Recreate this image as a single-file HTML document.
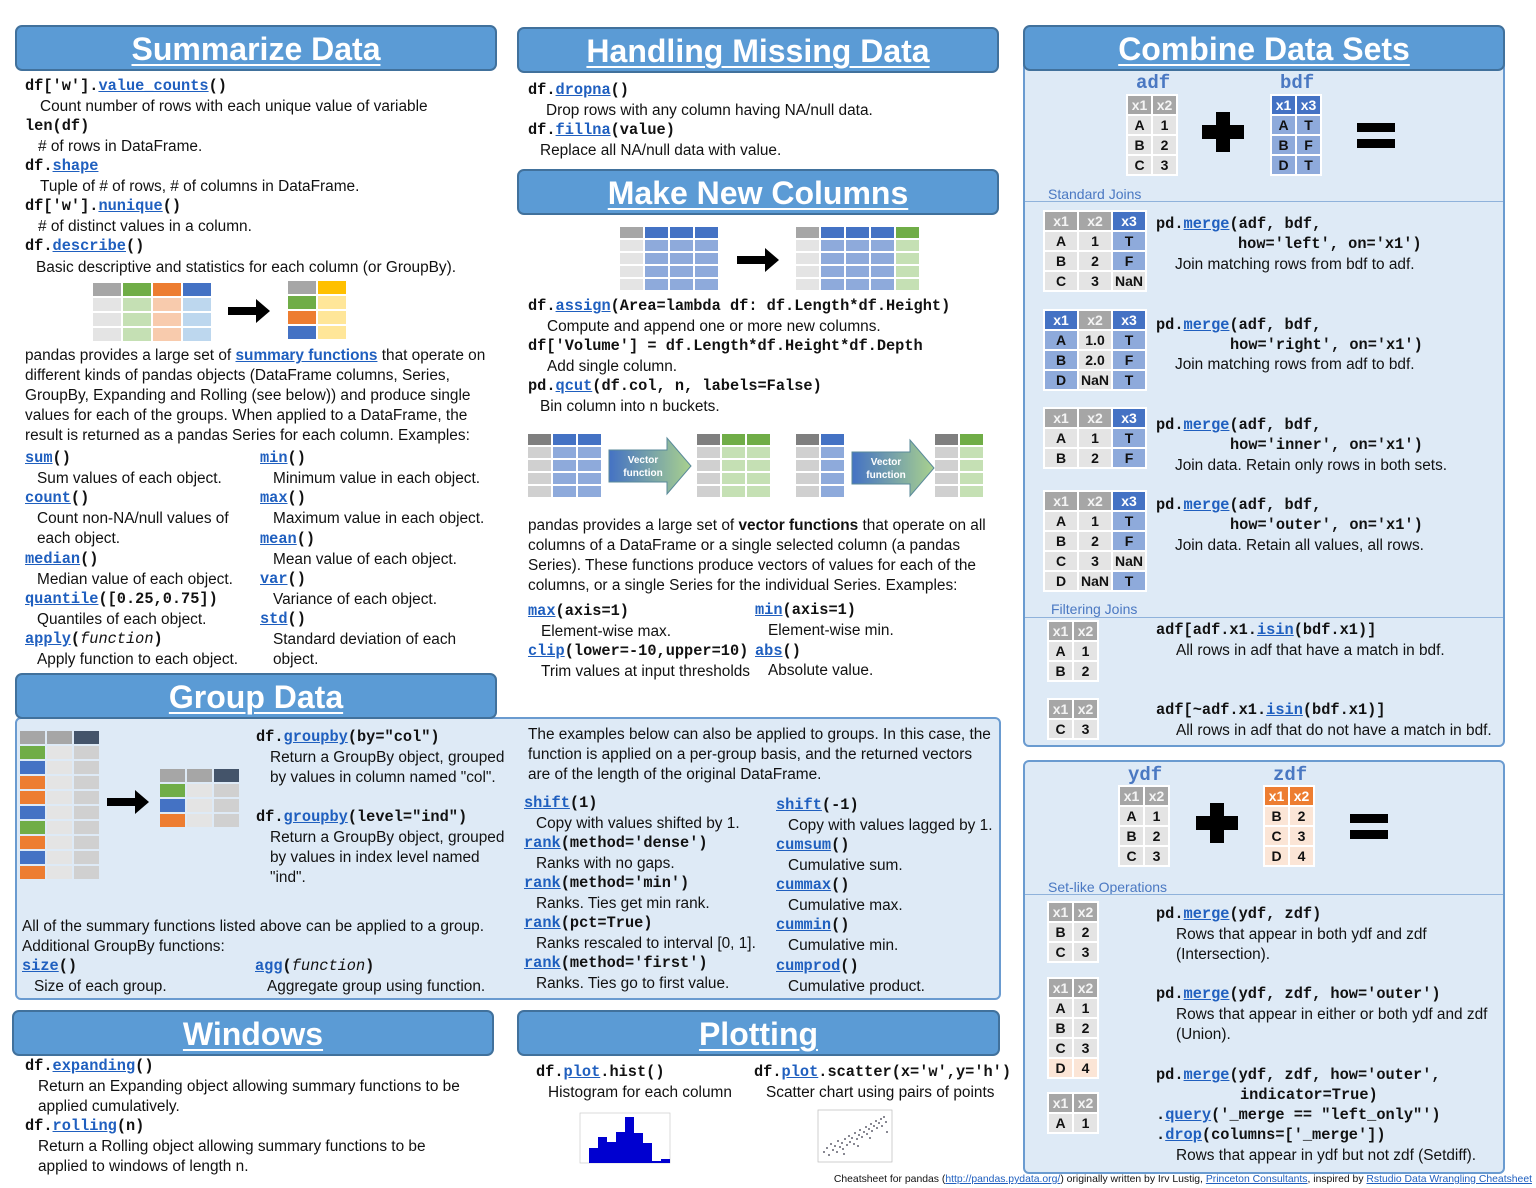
<!DOCTYPE html>
<html><head><meta charset="utf-8"><style>
*{margin:0;padding:0;box-sizing:border-box}
body{width:1536px;height:1188px;background:#fff;position:relative;overflow:hidden;font-family:"Liberation Sans",sans-serif;color:#111}
.h{position:absolute;background:#5b9bd5;border:2px solid #41719c;border-radius:7px;color:#fff;font:bold 32px "Liberation Sans",sans-serif;text-align:center;text-decoration:underline;text-decoration-thickness:2px;text-underline-offset:4px}
.p{position:absolute;background:#deeaf6;border:2px solid #6a9bd0;border-radius:6px}
.x{position:absolute;white-space:nowrap;line-height:20px;font-size:15.4px}
.c{position:absolute;white-space:nowrap;line-height:20px;font:bold 15.3px "Liberation Mono",monospace}
.k{color:#1f5fbf;text-decoration:underline}
i.it{font-family:"Liberation Mono",monospace;font-style:italic;font-weight:normal}
.lb{position:absolute;color:#4a78c2;font-size:14px;line-height:16px}
.ln{position:absolute;height:1px;background:#8fb2db}
table.t{position:absolute;border-collapse:separate;border-spacing:2px;background:#fff;font:bold 14px "Liberation Sans",sans-serif}
table.t td{height:18px;text-align:center;padding:0;width:23px}
table.w td{width:32px}
.g{background:#a6a6a6;color:#f4f4f4}.l{background:#e4e4e4}
.B{background:#4472c4;color:#fff}.b{background:#8eaadb}
.O{background:#ed7d31;color:#fff}.o{background:#fbe5d6}
.gr{position:absolute;display:grid;gap:2px}
.gr i{display:block}
.df{position:absolute;font:bold 19px "Liberation Mono",monospace;color:#4a78c2}
</style></head><body>

<div class="h" style="left:15px;top:25px;width:482px;height:46px;line-height:44px">Summarize Data</div>
<div class="h" style="left:517px;top:27px;width:482px;height:46px;line-height:44px">Handling Missing Data</div>
<div class="h" style="left:517px;top:169px;width:482px;height:46px;line-height:44px">Make New Columns</div>
<div class="p" style="left:1023px;top:60px;width:482px;height:687px"></div>
<div class="h" style="left:1023px;top:25px;width:482px;height:46px;line-height:44px">Combine Data Sets</div>
<div class="p" style="left:1023px;top:760px;width:482px;height:414px"></div>
<div class="p" style="left:15px;top:717px;width:986px;height:283px"></div>
<div class="h" style="left:15px;top:673px;width:482px;height:46px;line-height:44px">Group Data</div>
<div class="h" style="left:12px;top:1010px;width:482px;height:46px;line-height:44px">Windows</div>
<div class="h" style="left:517px;top:1010px;width:483px;height:46px;line-height:44px">Plotting</div>

<div class="c" style="left:25px;top:77px">df['w'].<span class="k">value_counts</span>()</div>
<div class="x" style="left:40px;top:97px">Count number of rows with each unique value of variable</div>
<div class="c" style="left:25px;top:117px">len(df)</div>
<div class="x" style="left:38px;top:137px"># of rows in DataFrame.</div>
<div class="c" style="left:25px;top:157px">df.<span class="k">shape</span></div>
<div class="x" style="left:40px;top:177px">Tuple of # of rows, # of columns in DataFrame.</div>
<div class="c" style="left:25px;top:197px">df['w'].<span class="k">nunique</span>()</div>
<div class="x" style="left:38px;top:217px"># of distinct values in a column.</div>
<div class="c" style="left:25px;top:237px">df.<span class="k">describe</span>()</div>
<div class="x" style="left:36px;top:258px">Basic descriptive and statistics for each column (or GroupBy).</div>

<div class="gr" style="left:93px;top:283px;grid-template-columns:repeat(4,28px);grid-auto-rows:13px">
<i style="background:#a6a6a6"></i><i style="background:#70ad47"></i><i style="background:#ed7d31"></i><i style="background:#4472c4"></i>
<i style="background:#e4e4e4"></i><i style="background:#c5e0b4"></i><i style="background:#f8cbad"></i><i style="background:#bdd7ee"></i>
<i style="background:#e4e4e4"></i><i style="background:#c5e0b4"></i><i style="background:#f8cbad"></i><i style="background:#bdd7ee"></i>
<i style="background:#e4e4e4"></i><i style="background:#c5e0b4"></i><i style="background:#f8cbad"></i><i style="background:#bdd7ee"></i>
</div>
<svg style="position:absolute;left:228px;top:298px" width="44" height="26"><path d="M0 9h28V1l14 12-14 12v-8H0z" fill="#000"/></svg>
<div class="gr" style="left:288px;top:281px;grid-template-columns:repeat(2,28px);grid-auto-rows:13px">
<i style="background:#a6a6a6"></i><i style="background:#ffc000"></i>
<i style="background:#70ad47"></i><i style="background:#ffe699"></i>
<i style="background:#ed7d31"></i><i style="background:#ffe699"></i>
<i style="background:#4472c4"></i><i style="background:#ffe699"></i>
</div>

<div class="x" style="left:25px;top:346px">pandas provides a large set of <b class="k">summary functions</b> that operate on</div>
<div class="x" style="left:25px;top:366px">different kinds of pandas objects (DataFrame columns, Series,</div>
<div class="x" style="left:25px;top:386px">GroupBy, Expanding and Rolling (see below)) and produce single</div>
<div class="x" style="left:25px;top:406px">values for each of the groups. When applied to a DataFrame, the</div>
<div class="x" style="left:25px;top:426px">result is returned as a pandas Series for each column. Examples:</div>

<div class="c" style="left:25px;top:449px"><span class="k">sum</span>()</div>
<div class="x" style="left:37px;top:469px">Sum values of each object.</div>
<div class="c" style="left:25px;top:489px"><span class="k">count</span>()</div>
<div class="x" style="left:37px;top:509px">Count non-NA/null values of</div>
<div class="x" style="left:37px;top:529px">each object.</div>
<div class="c" style="left:25px;top:550px"><span class="k">median</span>()</div>
<div class="x" style="left:37px;top:570px">Median value of each object.</div>
<div class="c" style="left:25px;top:590px"><span class="k">quantile</span>([0.25,0.75])</div>
<div class="x" style="left:37px;top:610px">Quantiles of each object.</div>
<div class="c" style="left:25px;top:630px"><span class="k">apply</span>(<i class="it">function</i>)</div>
<div class="x" style="left:37px;top:650px">Apply function to each object.</div>

<div class="c" style="left:260px;top:449px"><span class="k">min</span>()</div>
<div class="x" style="left:273px;top:469px">Minimum value in each object.</div>
<div class="c" style="left:260px;top:489px"><span class="k">max</span>()</div>
<div class="x" style="left:273px;top:509px">Maximum value in each object.</div>
<div class="c" style="left:260px;top:530px"><span class="k">mean</span>()</div>
<div class="x" style="left:273px;top:550px">Mean value of each object.</div>
<div class="c" style="left:260px;top:570px"><span class="k">var</span>()</div>
<div class="x" style="left:273px;top:590px">Variance of each object.</div>
<div class="c" style="left:260px;top:610px"><span class="k">std</span>()</div>
<div class="x" style="left:273px;top:630px">Standard deviation of each</div>
<div class="x" style="left:273px;top:650px">object.</div>

<div class="c" style="left:528px;top:81px">df.<span class="k">dropna</span>()</div>
<div class="x" style="left:546px;top:101px">Drop rows with any column having NA/null data.</div>
<div class="c" style="left:528px;top:121px">df.<span class="k">fillna</span>(value)</div>
<div class="x" style="left:540px;top:141px">Replace all NA/null data with value.</div>

<div class="gr" style="left:620px;top:227px;grid-template-columns:23px repeat(3,23px);grid-auto-rows:11px">
<i style="background:#a6a6a6"></i><i style="background:#4472c4"></i><i style="background:#4472c4"></i><i style="background:#4472c4"></i>
<i style="background:#e4e4e4"></i><i style="background:#8eaadb"></i><i style="background:#8eaadb"></i><i style="background:#8eaadb"></i>
<i style="background:#e4e4e4"></i><i style="background:#8eaadb"></i><i style="background:#8eaadb"></i><i style="background:#8eaadb"></i>
<i style="background:#e4e4e4"></i><i style="background:#8eaadb"></i><i style="background:#8eaadb"></i><i style="background:#8eaadb"></i>
<i style="background:#e4e4e4"></i><i style="background:#8eaadb"></i><i style="background:#8eaadb"></i><i style="background:#8eaadb"></i>
</div>
<svg style="position:absolute;left:737px;top:248px" width="44" height="24"><path d="M0 8h28V0l14 12-14 12v-8H0z" fill="#000"/></svg>
<div class="gr" style="left:796px;top:227px;grid-template-columns:repeat(5,23px);grid-auto-rows:11px">
<i style="background:#a6a6a6"></i><i style="background:#4472c4"></i><i style="background:#4472c4"></i><i style="background:#4472c4"></i><i style="background:#70ad47"></i>
<i style="background:#e4e4e4"></i><i style="background:#8eaadb"></i><i style="background:#8eaadb"></i><i style="background:#8eaadb"></i><i style="background:#c5e0b4"></i>
<i style="background:#e4e4e4"></i><i style="background:#8eaadb"></i><i style="background:#8eaadb"></i><i style="background:#8eaadb"></i><i style="background:#c5e0b4"></i>
<i style="background:#e4e4e4"></i><i style="background:#8eaadb"></i><i style="background:#8eaadb"></i><i style="background:#8eaadb"></i><i style="background:#c5e0b4"></i>
<i style="background:#e4e4e4"></i><i style="background:#8eaadb"></i><i style="background:#8eaadb"></i><i style="background:#8eaadb"></i><i style="background:#c5e0b4"></i>
</div>
<div class="c" style="left:528px;top:297px">df.<span class="k">assign</span>(Area=lambda df: df.Length*df.Height)</div>
<div class="x" style="left:547px;top:317px">Compute and append one or more new columns.</div>
<div class="c" style="left:528px;top:337px">df['Volume'] = df.Length*df.Height*df.Depth</div>
<div class="x" style="left:547px;top:357px">Add single column.</div>
<div class="c" style="left:528px;top:377px">pd.<span class="k">qcut</span>(df.col, n, labels=False)</div>
<div class="x" style="left:540px;top:397px">Bin column into n buckets.</div>

<svg style="position:absolute;left:526px;top:432px" width="464" height="72">
<defs><linearGradient id="vg" x1="0" x2="1"><stop offset="0" stop-color="#4472c4"/><stop offset="1" stop-color="#a9d18e"/></linearGradient></defs>
<g>
<rect x="2" y="2" width="23" height="11" fill="#7f7f7f"/><rect x="27" y="2" width="23" height="11" fill="#4472c4"/><rect x="52" y="2" width="23" height="11" fill="#4472c4"/>
<g fill="#d0d0d0"><rect x="2" y="15" width="23" height="11"/><rect x="2" y="28" width="23" height="11"/><rect x="2" y="41" width="23" height="11"/><rect x="2" y="54" width="23" height="11"/></g>
<g fill="#8eaadb"><rect x="27" y="15" width="23" height="11"/><rect x="27" y="28" width="23" height="11"/><rect x="27" y="41" width="23" height="11"/><rect x="27" y="54" width="23" height="11"/><rect x="52" y="15" width="23" height="11"/><rect x="52" y="28" width="23" height="11"/><rect x="52" y="41" width="23" height="11"/><rect x="52" y="54" width="23" height="11"/></g>
</g>
<path d="M83 18h58V6l24 28-24 28V50H83z" fill="url(#vg)" stroke="#5a8a9a"/>
<text x="117" y="31" fill="#fff" font-size="10" font-weight="bold" text-anchor="middle" font-family="Liberation Sans">Vector</text>
<text x="117" y="44" fill="#fff" font-size="10" font-weight="bold" text-anchor="middle" font-family="Liberation Sans">function</text>
<g transform="translate(169,0)">
<rect x="2" y="2" width="23" height="11" fill="#7f7f7f"/><rect x="27" y="2" width="23" height="11" fill="#70ad47"/><rect x="52" y="2" width="23" height="11" fill="#70ad47"/>
<g fill="#d0d0d0"><rect x="2" y="15" width="23" height="11"/><rect x="2" y="28" width="23" height="11"/><rect x="2" y="41" width="23" height="11"/><rect x="2" y="54" width="23" height="11"/></g>
<g fill="#c5e0b4"><rect x="27" y="15" width="23" height="11"/><rect x="27" y="28" width="23" height="11"/><rect x="27" y="41" width="23" height="11"/><rect x="27" y="54" width="23" height="11"/><rect x="52" y="15" width="23" height="11"/><rect x="52" y="28" width="23" height="11"/><rect x="52" y="41" width="23" height="11"/><rect x="52" y="54" width="23" height="11"/></g>
</g>
<g transform="translate(268,0)">
<rect x="2" y="2" width="23" height="11" fill="#7f7f7f"/><rect x="27" y="2" width="23" height="11" fill="#4472c4"/>
<g fill="#d0d0d0"><rect x="2" y="15" width="23" height="11"/><rect x="2" y="28" width="23" height="11"/><rect x="2" y="41" width="23" height="11"/><rect x="2" y="54" width="23" height="11"/></g>
<g fill="#8eaadb"><rect x="27" y="15" width="23" height="11"/><rect x="27" y="28" width="23" height="11"/><rect x="27" y="41" width="23" height="11"/><rect x="27" y="54" width="23" height="11"/></g>
</g>
<path d="M326 20h58V8l24 28-24 28V52H326z" fill="url(#vg)" stroke="#5a8a9a"/>
<text x="360" y="33" fill="#fff" font-size="10" font-weight="bold" text-anchor="middle" font-family="Liberation Sans">Vector</text>
<text x="360" y="46" fill="#fff" font-size="10" font-weight="bold" text-anchor="middle" font-family="Liberation Sans">function</text>
<g transform="translate(407,0)">
<rect x="2" y="2" width="23" height="11" fill="#7f7f7f"/><rect x="27" y="2" width="23" height="11" fill="#70ad47"/>
<g fill="#d0d0d0"><rect x="2" y="15" width="23" height="11"/><rect x="2" y="28" width="23" height="11"/><rect x="2" y="41" width="23" height="11"/><rect x="2" y="54" width="23" height="11"/></g>
<g fill="#c5e0b4"><rect x="27" y="15" width="23" height="11"/><rect x="27" y="28" width="23" height="11"/><rect x="27" y="41" width="23" height="11"/><rect x="27" y="54" width="23" height="11"/></g>
</g>
</svg>

<div class="x" style="left:528px;top:516px">pandas provides a large set of <b>vector functions</b> that operate on all</div>
<div class="x" style="left:528px;top:536px">columns of a DataFrame or a single selected column (a pandas</div>
<div class="x" style="left:528px;top:556px">Series). These functions produce vectors of values for each of the</div>
<div class="x" style="left:528px;top:576px">columns, or a single Series for the individual Series. Examples:</div>
<div class="c" style="left:528px;top:602px"><span class="k">max</span>(axis=1)</div>
<div class="x" style="left:541px;top:622px">Element-wise max.</div>
<div class="c" style="left:755px;top:601px"><span class="k">min</span>(axis=1)</div>
<div class="x" style="left:768px;top:621px">Element-wise min.</div>
<div class="c" style="left:528px;top:642px"><span class="k">clip</span>(lower=-10,upper=10)</div>
<div class="x" style="left:541px;top:662px">Trim values at input thresholds</div>
<div class="c" style="left:755px;top:642px"><span class="k">abs</span>()</div>
<div class="x" style="left:768px;top:661px">Absolute value.</div>

<div class="df" style="left:1136px;top:72px">adf</div>
<table class="t" style="left:1126px;top:94px"><tr><td class="g">x1</td><td class="g">x2</td></tr><tr><td class="l">A</td><td class="l">1</td></tr><tr><td class="l">B</td><td class="l">2</td></tr><tr><td class="l">C</td><td class="l">3</td></tr></table>
<svg style="position:absolute;left:1202px;top:112px" width="42" height="40"><path d="M14 0h14v13h14v14H28v13H14V27H0V13h14z"/></svg>
<div class="df" style="left:1280px;top:72px">bdf</div>
<table class="t" style="left:1270px;top:94px"><tr><td class="B">x1</td><td class="B">x3</td></tr><tr><td class="b">A</td><td class="b">T</td></tr><tr><td class="b">B</td><td class="b">F</td></tr><tr><td class="b">D</td><td class="b">T</td></tr></table>
<svg style="position:absolute;left:1357px;top:123px" width="40" height="26"><rect width="38" height="9"/><rect y="16" width="38" height="9"/></svg>
<div class="lb" style="left:1048px;top:186px">Standard Joins</div>
<div class="ln" style="left:1025px;top:201px;width:478px"></div>

<table class="t w" style="left:1043px;top:210px"><tr><td class="g">x1</td><td class="g">x2</td><td class="B">x3</td></tr><tr><td class="l">A</td><td class="l">1</td><td class="b">T</td></tr><tr><td class="l">B</td><td class="l">2</td><td class="b">F</td></tr><tr><td class="l">C</td><td class="l">3</td><td class="l">NaN</td></tr></table>
<div class="c" style="left:1156px;top:215px">pd.<span class="k">merge</span>(adf, bdf,</div>
<div class="c" style="left:1238px;top:235px">how='left', on='x1')</div>
<div class="x" style="left:1175px;top:255px">Join matching rows from bdf to adf.</div>

<table class="t w" style="left:1043px;top:309px"><tr><td class="B">x1</td><td class="g">x2</td><td class="B">x3</td></tr><tr><td class="b">A</td><td class="l">1.0</td><td class="b">T</td></tr><tr><td class="b">B</td><td class="l">2.0</td><td class="b">F</td></tr><tr><td class="b">D</td><td class="l">NaN</td><td class="b">T</td></tr></table>
<div class="c" style="left:1156px;top:316px">pd.<span class="k">merge</span>(adf, bdf,</div>
<div class="c" style="left:1230px;top:336px">how='right', on='x1')</div>
<div class="x" style="left:1175px;top:355px">Join matching rows from adf to bdf.</div>

<table class="t w" style="left:1043px;top:407px"><tr><td class="g">x1</td><td class="g">x2</td><td class="B">x3</td></tr><tr><td class="l">A</td><td class="l">1</td><td class="b">T</td></tr><tr><td class="l">B</td><td class="l">2</td><td class="b">F</td></tr></table>
<div class="c" style="left:1156px;top:416px">pd.<span class="k">merge</span>(adf, bdf,</div>
<div class="c" style="left:1230px;top:436px">how='inner', on='x1')</div>
<div class="x" style="left:1175px;top:456px">Join data. Retain only rows in both sets.</div>

<table class="t w" style="left:1043px;top:490px"><tr><td class="g">x1</td><td class="g">x2</td><td class="B">x3</td></tr><tr><td class="l">A</td><td class="l">1</td><td class="b">T</td></tr><tr><td class="l">B</td><td class="l">2</td><td class="b">F</td></tr><tr><td class="l">C</td><td class="l">3</td><td class="l">NaN</td></tr><tr><td class="l">D</td><td class="l">NaN</td><td class="b">T</td></tr></table>
<div class="c" style="left:1156px;top:496px">pd.<span class="k">merge</span>(adf, bdf,</div>
<div class="c" style="left:1230px;top:516px">how='outer', on='x1')</div>
<div class="x" style="left:1175px;top:536px">Join data. Retain all values, all rows.</div>

<div class="lb" style="left:1051px;top:601px">Filtering Joins</div>
<div class="ln" style="left:1025px;top:617px;width:478px"></div>
<table class="t" style="left:1047px;top:620px"><tr><td class="g">x1</td><td class="g">x2</td></tr><tr><td class="l">A</td><td class="l">1</td></tr><tr><td class="l">B</td><td class="l">2</td></tr></table>
<div class="c" style="left:1156px;top:621px">adf[adf.x1.<span class="k">isin</span>(bdf.x1)]</div>
<div class="x" style="left:1176px;top:641px">All rows in adf that have a match in bdf.</div>
<table class="t" style="left:1047px;top:698px"><tr><td class="g">x1</td><td class="g">x2</td></tr><tr><td class="l">C</td><td class="l">3</td></tr></table>
<div class="c" style="left:1156px;top:701px">adf[~adf.x1.<span class="k">isin</span>(bdf.x1)]</div>
<div class="x" style="left:1176px;top:721px">All rows in adf that do not have a match in bdf.</div>

<div class="df" style="left:1128px;top:764px">ydf</div>
<table class="t" style="left:1118px;top:785px"><tr><td class="g">x1</td><td class="g">x2</td></tr><tr><td class="l">A</td><td class="l">1</td></tr><tr><td class="l">B</td><td class="l">2</td></tr><tr><td class="l">C</td><td class="l">3</td></tr></table>
<svg style="position:absolute;left:1196px;top:803px" width="42" height="40"><path d="M14 0h14v13h14v14H28v13H14V27H0V13h14z"/></svg>
<div class="df" style="left:1273px;top:764px">zdf</div>
<table class="t" style="left:1263px;top:785px"><tr><td class="O">x1</td><td class="O">x2</td></tr><tr><td class="o">B</td><td class="o">2</td></tr><tr><td class="o">C</td><td class="o">3</td></tr><tr><td class="o">D</td><td class="o">4</td></tr></table>
<svg style="position:absolute;left:1350px;top:814px" width="40" height="26"><rect width="38" height="9"/><rect y="16" width="38" height="9"/></svg>
<div class="lb" style="left:1048px;top:879px">Set-like Operations</div>
<div class="ln" style="left:1025px;top:894px;width:478px"></div>

<table class="t" style="left:1047px;top:901px"><tr><td class="g">x1</td><td class="g">x2</td></tr><tr><td class="l">B</td><td class="l">2</td></tr><tr><td class="l">C</td><td class="l">3</td></tr></table>
<div class="c" style="left:1156px;top:905px">pd.<span class="k">merge</span>(ydf, zdf)</div>
<div class="x" style="left:1176px;top:925px">Rows that appear in both ydf and zdf</div>
<div class="x" style="left:1176px;top:945px">(Intersection).</div>
<table class="t" style="left:1047px;top:977px"><tr><td class="g">x1</td><td class="g">x2</td></tr><tr><td class="l">A</td><td class="l">1</td></tr><tr><td class="l">B</td><td class="l">2</td></tr><tr><td class="l">C</td><td class="l">3</td></tr><tr><td class="o">D</td><td class="o">4</td></tr></table>
<div class="c" style="left:1156px;top:985px">pd.<span class="k">merge</span>(ydf, zdf, how='outer')</div>
<div class="x" style="left:1176px;top:1005px">Rows that appear in either or both ydf and zdf</div>
<div class="x" style="left:1176px;top:1025px">(Union).</div>
<table class="t" style="left:1047px;top:1092px"><tr><td class="g">x1</td><td class="g">x2</td></tr><tr><td class="l">A</td><td class="l">1</td></tr></table>
<div class="c" style="left:1156px;top:1066px">pd.<span class="k">merge</span>(ydf, zdf, how='outer',</div>
<div class="c" style="left:1240px;top:1086px">indicator=True)</div>
<div class="c" style="left:1156px;top:1106px">.<span class="k">query</span>('_merge == "left_only"')</div>
<div class="c" style="left:1156px;top:1126px">.<span class="k">drop</span>(columns=['_merge'])</div>
<div class="x" style="left:1176px;top:1146px">Rows that appear in ydf but not zdf (Setdiff).</div>

<div class="x" style="right:4px;top:1172px;font-size:10.4px;line-height:16px">Cheatsheet for pandas (<span class="k">http://pandas.pydata.org/</span>) originally written by Irv Lustig, <span class="k">Princeton Consultants</span>, inspired by <span class="k">Rstudio Data Wrangling Cheatsheet</span></div>

<div class="gr" style="left:20px;top:731px;grid-template-columns:repeat(3,25px);grid-auto-rows:13px">
<i style="background:#a6a6a6"></i><i style="background:#a6a6a6"></i><i style="background:#44546a"></i>
<i style="background:#70ad47"></i><i style="background:#e4e4e4"></i><i style="background:#d0d0d0"></i>
<i style="background:#4472c4"></i><i style="background:#e4e4e4"></i><i style="background:#d0d0d0"></i>
<i style="background:#ed7d31"></i><i style="background:#e4e4e4"></i><i style="background:#d0d0d0"></i>
<i style="background:#ed7d31"></i><i style="background:#e4e4e4"></i><i style="background:#d0d0d0"></i>
<i style="background:#4472c4"></i><i style="background:#e4e4e4"></i><i style="background:#d0d0d0"></i>
<i style="background:#70ad47"></i><i style="background:#e4e4e4"></i><i style="background:#d0d0d0"></i>
<i style="background:#ed7d31"></i><i style="background:#e4e4e4"></i><i style="background:#d0d0d0"></i>
<i style="background:#4472c4"></i><i style="background:#e4e4e4"></i><i style="background:#d0d0d0"></i>
<i style="background:#ed7d31"></i><i style="background:#e4e4e4"></i><i style="background:#d0d0d0"></i>
</div>
<svg style="position:absolute;left:107px;top:790px" width="44" height="24"><path d="M0 8h28V0l14 12-14 12v-8H0z"/></svg>
<div class="gr" style="left:160px;top:769px;grid-template-columns:repeat(3,25px);grid-auto-rows:13px">
<i style="background:#a6a6a6"></i><i style="background:#a6a6a6"></i><i style="background:#44546a"></i>
<i style="background:#70ad47"></i><i style="background:#e4e4e4"></i><i style="background:#d0d0d0"></i>
<i style="background:#4472c4"></i><i style="background:#e4e4e4"></i><i style="background:#d0d0d0"></i>
<i style="background:#ed7d31"></i><i style="background:#e4e4e4"></i><i style="background:#d0d0d0"></i>
</div>
<div class="c" style="left:256px;top:728px">df.<span class="k">groupby</span>(by="col")</div>
<div class="x" style="left:270px;top:748px">Return a GroupBy object, grouped</div>
<div class="x" style="left:270px;top:768px">by values in column named "col".</div>
<div class="c" style="left:256px;top:808px">df.<span class="k">groupby</span>(level="ind")</div>
<div class="x" style="left:270px;top:828px">Return a GroupBy object, grouped</div>
<div class="x" style="left:270px;top:848px">by values in index level named</div>
<div class="x" style="left:270px;top:868px">"ind".</div>
<div class="x" style="left:22px;top:917px">All of the summary functions listed above can be applied to a group.</div>
<div class="x" style="left:22px;top:937px">Additional GroupBy functions:</div>
<div class="c" style="left:22px;top:957px"><span class="k">size</span>()</div>
<div class="x" style="left:34px;top:977px">Size of each group.</div>
<div class="c" style="left:255px;top:957px"><span class="k">agg</span>(<i class="it">function</i>)</div>
<div class="x" style="left:267px;top:977px">Aggregate group using function.</div>

<div class="x" style="left:528px;top:725px">The examples below can also be applied to groups. In this case, the</div>
<div class="x" style="left:528px;top:745px">function is applied on a per-group basis, and the returned vectors</div>
<div class="x" style="left:528px;top:765px">are of the length of the original DataFrame.</div>
<div class="c" style="left:524px;top:794px"><span class="k">shift</span>(1)</div>
<div class="x" style="left:536px;top:814px">Copy with values shifted by 1.</div>
<div class="c" style="left:524px;top:834px"><span class="k">rank</span>(method='dense')</div>
<div class="x" style="left:536px;top:854px">Ranks with no gaps.</div>
<div class="c" style="left:524px;top:874px"><span class="k">rank</span>(method='min')</div>
<div class="x" style="left:536px;top:894px">Ranks. Ties get min rank.</div>
<div class="c" style="left:524px;top:914px"><span class="k">rank</span>(pct=True)</div>
<div class="x" style="left:536px;top:934px">Ranks rescaled to interval [0, 1].</div>
<div class="c" style="left:524px;top:954px"><span class="k">rank</span>(method='first')</div>
<div class="x" style="left:536px;top:974px">Ranks. Ties go to first value.</div>
<div class="c" style="left:776px;top:796px"><span class="k">shift</span>(-1)</div>
<div class="x" style="left:788px;top:816px">Copy with values lagged by 1.</div>
<div class="c" style="left:776px;top:836px"><span class="k">cumsum</span>()</div>
<div class="x" style="left:788px;top:856px">Cumulative sum.</div>
<div class="c" style="left:776px;top:876px"><span class="k">cummax</span>()</div>
<div class="x" style="left:788px;top:896px">Cumulative max.</div>
<div class="c" style="left:776px;top:916px"><span class="k">cummin</span>()</div>
<div class="x" style="left:788px;top:936px">Cumulative min.</div>
<div class="c" style="left:776px;top:957px"><span class="k">cumprod</span>()</div>
<div class="x" style="left:788px;top:977px">Cumulative product.</div>

<div class="c" style="left:25px;top:1057px">df.<span class="k">expanding</span>()</div>
<div class="x" style="left:38px;top:1077px">Return an Expanding object allowing summary functions to be</div>
<div class="x" style="left:38px;top:1097px">applied cumulatively.</div>
<div class="c" style="left:25px;top:1117px">df.<span class="k">rolling</span>(n)</div>
<div class="x" style="left:38px;top:1137px">Return a Rolling object allowing summary functions to be</div>
<div class="x" style="left:38px;top:1157px">applied to windows of length n.</div>

<div class="c" style="left:536px;top:1063px">df.<span class="k">plot</span>.hist()</div>
<div class="x" style="left:548px;top:1083px">Histogram for each column</div>
<div class="c" style="left:754px;top:1063px">df.<span class="k">plot</span>.scatter(x='w',y='h')</div>
<div class="x" style="left:766px;top:1083px">Scatter chart using pairs of points</div>
<svg style="position:absolute;left:575px;top:1110px" width="100" height="58">
<rect x="5" y="3" width="90" height="50" fill="none" stroke="#ccc" stroke-width="0.7"/>
<g fill="#0000d0"><rect x="14" y="38" width="9" height="15"/><rect x="23" y="27" width="9" height="26"/><rect x="32" y="32" width="9" height="21"/><rect x="41" y="22" width="9" height="31"/><rect x="50" y="7" width="9" height="46"/><rect x="59" y="23" width="9" height="30"/><rect x="68" y="33" width="9" height="20"/><rect x="77" y="51" width="9" height="2"/><rect x="86" y="49" width="9" height="4"/></g>
</svg>
<svg style="position:absolute;left:814px;top:1108px" width="80" height="60">
<rect x="4" y="2" width="74" height="52" fill="none" stroke="#bbb" stroke-width="0.7"/>
<g fill="#334">
<circle cx="10" cy="44" r="0.9"/><circle cx="13" cy="40" r="0.9"/><circle cx="15" cy="47" r="0.9"/><circle cx="17" cy="36" r="0.9"/><circle cx="19" cy="42" r="0.9"/><circle cx="21" cy="38" r="0.9"/><circle cx="23" cy="44" r="0.9"/><circle cx="24" cy="33" r="0.9"/><circle cx="26" cy="39" r="0.9"/><circle cx="28" cy="35" r="0.9"/><circle cx="29" cy="41" r="0.9"/><circle cx="31" cy="31" r="0.9"/><circle cx="33" cy="37" r="0.9"/><circle cx="35" cy="28" r="0.9"/><circle cx="36" cy="34" r="0.9"/><circle cx="38" cy="30" r="0.9"/><circle cx="40" cy="36" r="0.9"/><circle cx="41" cy="25" r="0.9"/><circle cx="43" cy="31" r="0.9"/><circle cx="45" cy="27" r="0.9"/><circle cx="46" cy="22" r="0.9"/><circle cx="48" cy="29" r="0.9"/><circle cx="50" cy="24" r="0.9"/><circle cx="52" cy="19" r="0.9"/><circle cx="53" cy="26" r="0.9"/><circle cx="55" cy="21" r="0.9"/><circle cx="57" cy="16" r="0.9"/><circle cx="58" cy="23" r="0.9"/><circle cx="60" cy="18" r="0.9"/><circle cx="62" cy="13" r="0.9"/><circle cx="63" cy="20" r="0.9"/><circle cx="65" cy="15" r="0.9"/><circle cx="67" cy="11" r="0.9"/><circle cx="68" cy="18" r="0.9"/><circle cx="70" cy="9" r="0.9"/><circle cx="72" cy="14" r="0.9"/><circle cx="73" cy="24" r="0.9"/><circle cx="44" cy="38" r="0.9"/><circle cx="30" cy="46" r="0.9"/><circle cx="56" cy="30" r="0.9"/>
</g>
</svg>
</body></html>
